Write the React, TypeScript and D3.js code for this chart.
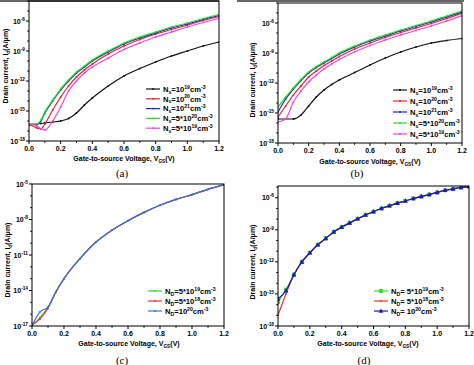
import React, { useEffect, useRef } from "react";
import * as d3 from "d3";

// gate voltages (V) for each panel
const vgsA = [0, 0.05, 0.075, 0.1, 0.15, 0.2, 0.25, 0.3, 0.35, 0.4, 0.5, 0.6, 0.7, 0.8, 0.9, 1.0, 1.1, 1.2];
const vgsB = [0, 0.05, 0.1, 0.15, 0.2, 0.25, 0.3, 0.35, 0.4, 0.5, 0.6, 0.7, 0.8, 0.9, 1.0, 1.1, 1.2];
const vgsC = [0, 0.05, 0.1, 0.15, 0.2, 0.3, 0.4, 0.5, 0.6, 0.7, 0.8, 0.9, 1.0, 1.1, 1.2];
const vgsD = [0, 0.05, 0.1, 0.15, 0.2, 0.25, 0.3, 0.35, 0.4, 0.45, 0.5, 0.55, 0.6, 0.65, 0.7, 0.75, 0.8, 0.85, 0.9, 0.95, 1.0, 1.05, 1.1, 1.15, 1.2];

// log10 of drain current (A/um)
const aNs1e19 = [-16.4, -16.3, -16.25, -16.2, -16.1, -16.0, -15.75, -15.2, -14.4, -13.7, -12.5, -11.5, -10.75, -10.1, -9.5, -9.0, -8.5, -8.1];
const aNs1e20 = [-16.3, -16.7, -16.8, -16.3, -14.9, -13.6, -12.5, -11.6, -10.9, -10.3, -9.3, -8.5, -7.85, -7.3, -6.85, -6.4, -5.95, -5.55];
const aNs1e21 = [-16.3, -16.35, -16.0, -15.2, -14.0, -12.9, -12.0, -11.2, -10.6, -10.0, -9.1, -8.3, -7.7, -7.2, -6.7, -6.3, -5.85, -5.45];
const aNs5e20 = [-16.3, -16.3, -15.9, -15.1, -13.9, -12.8, -11.9, -11.1, -10.5, -9.9, -9.0, -8.2, -7.6, -7.1, -6.6, -6.2, -5.75, -5.35];
const aNs5e19 = [-16.3, -16.5, -16.8, -16.9, -16.0, -14.6, -13.0, -12.0, -11.2, -10.6, -9.7, -8.85, -8.2, -7.6, -7.1, -6.6, -6.15, -5.75];

const bNs1e19 = [-15.6, -15.6, -15.6, -15.2, -14.3, -13.4, -12.7, -12.15, -11.7, -10.95, -10.2, -9.5, -8.9, -8.4, -8.0, -7.75, -7.55];
const bNs1e20 = [-15.4, -14.3, -13.2, -12.3, -11.4, -10.8, -10.25, -9.8, -9.35, -8.6, -8.0, -7.45, -6.95, -6.5, -6.05, -5.55, -5.0];
const bNs1e21 = [-14.9, -13.6, -12.6, -11.75, -11.0, -10.45, -10.0, -9.55, -9.1, -8.4, -7.8, -7.3, -6.8, -6.35, -5.9, -5.4, -4.9];
const bNs5e20 = [-14.4, -13.4, -12.5, -11.65, -10.9, -10.35, -9.9, -9.45, -9.0, -8.3, -7.7, -7.2, -6.7, -6.25, -5.8, -5.3, -4.8];
const bNs5e19 = [-15.9, -15.6, -13.9, -12.8, -11.9, -11.2, -10.6, -10.1, -9.65, -8.9, -8.25, -7.7, -7.2, -6.75, -6.3, -5.8, -5.25];

const cNd5e19 = [-17.0, -16.3, -15.4, -14.1, -13.0, -11.3, -9.9, -8.9, -8.1, -7.4, -6.8, -6.3, -5.9, -5.45, -5.08];
const cNd5e18 = [-16.9, -16.4, -15.5, -14.1, -13.0, -11.3, -9.9, -8.9, -8.1, -7.4, -6.8, -6.3, -5.9, -5.45, -5.08];
const cNd1e20 = [-16.95, -15.8, -15.4, -14.1, -13.0, -11.3, -9.9, -8.9, -8.1, -7.4, -6.8, -6.3, -5.9, -5.45, -5.08];

const dNd5e19 = [-15.75, -14.6, -13.2, -12.0, -11.15, -10.4, -9.8, -9.2, -8.75, -8.35, -7.97, -7.6, -7.3, -7.0, -6.75, -6.5, -6.3, -6.07, -5.88, -5.7, -5.5, -5.3, -5.17, -5.04, -4.95];
const dNd5e18 = [-17.0, -15.0, -13.2, -12.0, -11.15, -10.4, -9.8, -9.2, -8.75, -8.35, -7.97, -7.6, -7.3, -7.0, -6.75, -6.5, -6.3, -6.07, -5.88, -5.7, -5.5, -5.3, -5.17, -5.04, -4.95];
const dNd1e20 = [-15.45, -14.7, -13.2, -12.0, -11.15, -10.4, -9.8, -9.2, -8.75, -8.35, -7.97, -7.6, -7.3, -7.0, -6.75, -6.5, -6.3, -6.07, -5.88, -5.7, -5.5, -5.3, -5.17, -5.04, -4.95];

const xTicks = [0, 0.2, 0.4, 0.6, 0.8, 1.0, 1.2];
const xMinor = [0.1, 0.3, 0.5, 0.7, 0.9, 1.1];
const yTicksABD = [-18, -15, -12, -9, -6];
const yTicksC = [-17, -14, -11, -8, -5];

const labelsNs = ["N_{s}=10^{19}cm^{-3}", "N_{s}=10^{20}cm^{-3}", "N_{s}=10^{21}cm^{-3}", "N_{s}=5*10^{20}cm^{-3}", "N_{s}=5*10^{19}cm^{-3}"];
const labelsC = ["N_{D}=5*10^{19}cm^{-3}", "N_{D}=5*10^{18}cm^{-3}", "N_{D}=10^{20}cm^{-3}"];
const labelsD = ["N_{D}= 5*10^{19}cm^{-3}", "N_{D}= 5*10^{18}cm^{-3}", "N_{D}= 10^{20}cm^{-3}"];

const FONT = "'Liberation Sans', Arial, sans-serif";

// write "a_{b}c^{d}" style markup as tspans
const richText = (sel, markup, size) => {
  const parts = [];
  const re = /([_^])\{([^}]*)\}|([^_^]+)/g;
  let m;
  while ((m = re.exec(markup))) {
    if (m[3]) parts.push({ t: m[3], k: "n" });
    else parts.push({ t: m[2], k: m[1] === "^" ? "sup" : "sub" });
  }
  let shift = 0;
  parts.forEach((p) => {
    const target = p.k === "sup" ? -size * 0.4 : p.k === "sub" ? size * 0.25 : 0;
    sel
      .append("tspan")
      .attr("dy", target - shift)
      .attr("font-size", p.k === "n" ? size : size * 0.68)
      .text(p.t);
    shift = target;
  });
};

const panels = [
  {
    id: "a", frame: [29, 219, 1, 141], yDomain: [-18, -4], yTicks: yTicksABD, vgs: vgsA,
    series: [aNs1e19, aNs1e20, aNs1e21, aNs5e20, aNs5e19],
    colors: ["#111111", "#e8241f", "#1c22d8", "#22e022", "#ee44ee"],
    markers: ["dot", "dot", "dot", "dot", "dot"],
    labels: labelsNs, legend: [146, 89, 9.8],
    xTitle: [124, 161], yTitle: [5, 66], cap: [122, 177], bar: [0, 219],
  },
  {
    id: "b", frame: [278, 462, 3, 143], yDomain: [-18, -4], yTicks: yTicksABD, vgs: vgsB,
    series: [bNs1e19, bNs1e20, bNs1e21, bNs5e20, bNs5e19],
    colors: ["#111111", "#e8241f", "#1c22d8", "#22e022", "#ee44ee"],
    markers: ["dot", "dot", "dot", "dot", "dot"],
    labels: labelsNs, legend: [393, 90, 11],
    xTitle: [370, 164], yTitle: [252, 80], cap: [357, 177], bar: [237, 464],
  },
  {
    id: "c", frame: [32, 224, 184, 326], yDomain: [-17, -5], yTicks: yTicksC, vgs: vgsC,
    series: [cNd5e19, cNd5e18, cNd1e20],
    colors: ["#2fd12f", "#e8322c", "#3a6ee0"],
    markers: ["dot", "dot", "dot"],
    labels: labelsC, legend: [148, 291, 10],
    xTitle: [129, 346], yTitle: [7, 260], cap: [122, 364],
  },
  {
    id: "d", frame: [278, 469, 186, 326], yDomain: [-18, -4.9], yTicks: yTicksABD, vgs: vgsD,
    series: [dNd5e19, dNd5e18, dNd1e20],
    colors: ["#33dd33", "#ee3333", "#1a1ab8"],
    markers: ["square", "dot", "triangle"],
    labels: labelsD, legend: [374, 291, 10],
    xTitle: [368, 346], yTitle: [252, 262], cap: [364, 364],
  },
];

const drawMarker = (g, kind, x, y, color) => {
  if (kind === "square") {
    g.append("rect").attr("x", x - 2).attr("y", y - 2).attr("width", 4).attr("height", 4).attr("fill", color);
  } else if (kind === "triangle") {
    g.append("path").attr("d", `M${x},${y - 2.6}L${x + 2.4},${y + 1.8}L${x - 2.4},${y + 1.8}Z`).attr("fill", color);
  } else {
    g.append("circle").attr("cx", x).attr("cy", y).attr("r", 0.9).attr("fill", color);
  }
};

const App = () => {
  const svgRef = useRef(null);

  useEffect(() => {
    document.body.style.margin = "0";
    const svg = d3.select(svgRef.current);
    svg.selectAll("*").remove();
    svg.append("rect").attr("width", 474).attr("height", 365).attr("fill", "#fff");

    panels.forEach((p) => {
      const [x0, x1, yTop, yBot] = p.frame;
      const g = svg.append("g").attr("font-family", FONT).attr("font-weight", "bold");
      const x = d3.scaleLinear().domain([0, 1.2]).range([x0, x1]);
      const y = d3.scaleLinear().domain(p.yDomain).range([yBot, yTop]);

      if (p.bar) {
        g.append("rect").attr("x", p.bar[0]).attr("y", 0).attr("width", p.bar[1] - p.bar[0]).attr("height", 2).attr("fill", "#666");
      }

      // clip for curves
      const clipId = `clip-${p.id}`;
      svg.append("clipPath").attr("id", clipId).append("rect")
        .attr("x", x0).attr("y", yTop).attr("width", x1 - x0).attr("height", yBot - yTop);

      const line = d3.line().x((d) => x(d[0])).y((d) => y(d[1])).curve(d3.curveMonotoneX);
      const curves = g.append("g").attr("clip-path", `url(#${clipId})`);
      p.series.forEach((s, i) => {
        const pts = p.vgs.map((v, j) => [v, s[j]]);
        curves.append("path").datum(pts).attr("d", line).attr("fill", "none")
          .attr("stroke", p.colors[i]).attr("stroke-width", 1.2);
        pts.forEach((d) => drawMarker(curves, p.markers[i], x(d[0]), y(d[1]), p.colors[i]));
      });

      // frame
      g.append("rect").attr("x", x0).attr("y", yTop).attr("width", x1 - x0).attr("height", yBot - yTop)
        .attr("fill", "none").attr("stroke", "#000").attr("stroke-width", 1);

      // x axis
      xTicks.forEach((t) => {
        g.append("line").attr("x1", x(t)).attr("x2", x(t)).attr("y1", yBot).attr("y2", yBot + 3).attr("stroke", "#000");
        g.append("text").attr("x", x(t)).attr("y", yBot + 10).attr("text-anchor", "middle")
          .attr("font-size", 7).text(t.toFixed(1));
      });
      xMinor.forEach((t) => {
        g.append("line").attr("x1", x(t)).attr("x2", x(t)).attr("y1", yBot).attr("y2", yBot + 1.8).attr("stroke", "#000");
      });
      // y axis
      d3.range(Math.ceil(p.yDomain[0]), Math.floor(p.yDomain[1]) + 1).forEach((t) => {
        if (p.yTicks.includes(t)) return;
        g.append("line").attr("x1", x0 - 1.8).attr("x2", x0).attr("y1", y(t)).attr("y2", y(t)).attr("stroke", "#000");
      });
      p.yTicks.forEach((t) => {
        g.append("line").attr("x1", x0 - 3).attr("x2", x0).attr("y1", y(t)).attr("y2", y(t)).attr("stroke", "#000");
        const tx = g.append("text").attr("x", x0 - 4).attr("y", y(t) + 2.5).attr("text-anchor", "end").attr("font-size", 7);
        richText(tx, `10^{${t}}`, 7);
      });

      // titles
      const xt = g.append("text").attr("x", p.xTitle[0]).attr("y", p.xTitle[1]).attr("text-anchor", "middle").attr("font-size", 7);
      richText(xt, "Gate-to-source Voltage, V_{GS}(V)", 7);
      const yt = g.append("text").attr("transform", `translate(${p.yTitle[0] + 3},${p.yTitle[1]}) rotate(-90)`)
        .attr("text-anchor", "middle").attr("font-size", 7);
      richText(yt, "Drain current, I_{d}(A/μm)", 7);

      svg.append("text").attr("x", p.cap[0]).attr("y", p.cap[1]).attr("text-anchor", "middle")
        .attr("font-family", "'Liberation Serif', 'Times New Roman', serif").attr("font-size", 11)
        .text(`(${p.id})`);

      // legend
      const [lx, ly, step] = p.legend;
      p.labels.forEach((lab, i) => {
        const yy = ly + i * step;
        g.append("line").attr("x1", lx).attr("x2", lx + 14).attr("y1", yy).attr("y2", yy)
          .attr("stroke", p.colors[i]).attr("stroke-width", 1.2);
        drawMarker(g, p.markers[i], lx + 7, yy, p.colors[i]);
        const tt = g.append("text").attr("x", lx + 17).attr("y", yy + 2.7).attr("font-size", 7.6);
        richText(tt, lab, 7.6);
      });
    });
  }, []);

  return <svg ref={svgRef} width={474} height={365} style={{ display: "block" }}></svg>;
};

export default App;
